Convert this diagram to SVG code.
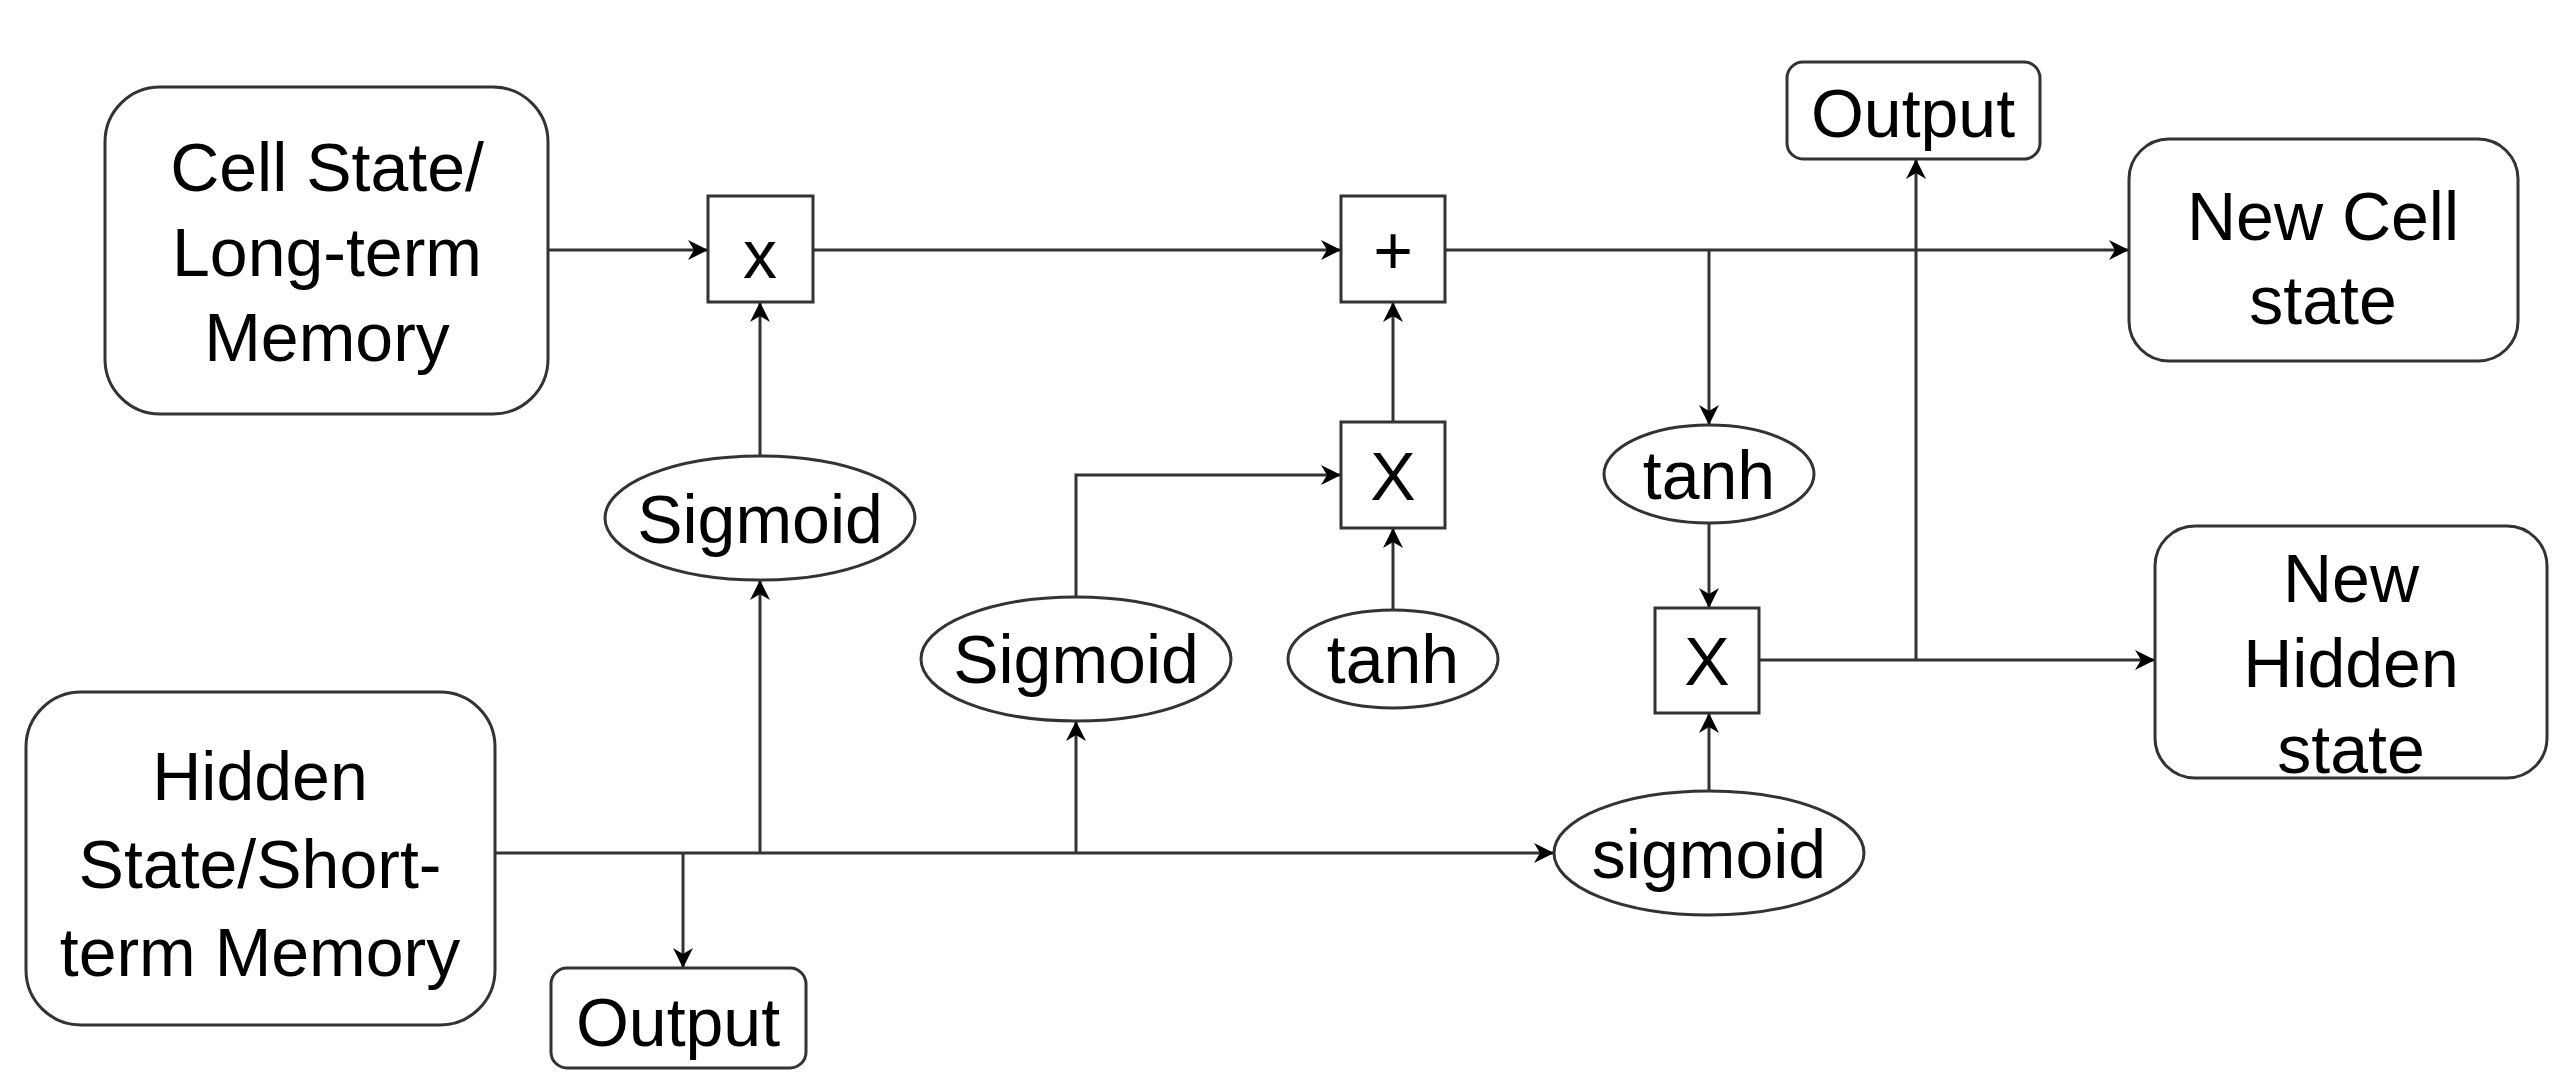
<svg xmlns="http://www.w3.org/2000/svg" width="2564" height="1092" viewBox="0 0 2564 1092">
<style>
.b{fill:#fff;stroke:#333;stroke-width:3}
.t{font-family:"Liberation Sans",Arial,sans-serif;font-size:68px;text-anchor:middle;fill:#000}
.c{fill:none;stroke:#333;stroke-width:3}
</style>
<defs>
<marker id="m" viewBox="0 0 10 10" refX="10" refY="5" markerWidth="20" markerHeight="20" markerUnits="userSpaceOnUse" orient="auto"><path d="M0,0L10,5L0,10L3,5Z" fill="#000"/></marker></defs>
<rect width="2564" height="1092" fill="#fff"/>
<g id="connectors">
<path class="c" marker-end="url(#m)" d="M548,250H708"/>
<path class="c" marker-end="url(#m)" d="M813,250H1341"/>
<path class="c" marker-end="url(#m)" d="M1445,250H2129"/>
<path class="c" marker-end="url(#m)" d="M1709,250V425"/>
<path class="c" marker-end="url(#m)" d="M1709,523V608"/>
<path class="c" marker-end="url(#m)" d="M1759,660H2155"/>
<path class="c" marker-end="url(#m)" d="M1916,660V159"/>
<path class="c" marker-end="url(#m)" d="M1393,422V302"/>
<path class="c" marker-end="url(#m)" d="M1393,610V528"/>
<path class="c" marker-end="url(#m)" d="M1076,597V475H1341"/>
<path class="c" marker-end="url(#m)" d="M760,456V302"/>
<path class="c" marker-end="url(#m)" d="M495,853H1554"/>
<path class="c" marker-end="url(#m)" d="M683,853V968"/>
<path class="c" marker-end="url(#m)" d="M760,853V580"/>
<path class="c" marker-end="url(#m)" d="M1076,853V721"/>
<path class="c" marker-end="url(#m)" d="M1709,791V713"/>
</g>
<g id="cell"><rect class="b" x="105" y="87" width="443" height="327" rx="55"/><text class="t" x="327" y="191">Cell State/</text><text class="t" x="327" y="276">Long-term</text><text class="t" x="327" y="361">Memory</text></g>
<g id="hidden"><rect class="b" x="26" y="692" width="469" height="333" rx="55"/><text class="t" x="260" y="800">Hidden</text><text class="t" x="260" y="888">State/Short-</text><text class="t" x="260" y="976">term Memory</text></g>
<g id="mul1"><rect class="b" x="708" y="196" width="105" height="106"/><text class="t" x="760" y="278">x</text></g>
<g id="plus"><rect class="b" x="1341" y="196" width="104" height="106"/><text class="t" x="1393" y="274">+</text></g>
<g id="mul2"><rect class="b" x="1341" y="422" width="104" height="106"/><text class="t" x="1393" y="500">X</text></g>
<g id="mul3"><rect class="b" x="1655" y="608" width="104" height="105"/><text class="t" x="1707" y="685">X</text></g>
<g id="outTop"><rect class="b" x="1787" y="62" width="253" height="97" rx="16"/><text class="t" x="1913" y="137">Output</text></g>
<g id="outBot"><rect class="b" x="551" y="968" width="255" height="100" rx="16"/><text class="t" x="678" y="1046">Output</text></g>
<g id="newCell"><rect class="b" x="2129" y="139" width="389" height="222" rx="40"/><text class="t" x="2323" y="240">New Cell</text><text class="t" x="2323" y="324">state</text></g>
<g id="newHidden"><rect class="b" x="2155" y="526" width="392" height="252" rx="40"/><text class="t" x="2351" y="602">New</text><text class="t" x="2351" y="687">Hidden</text><text class="t" x="2351" y="773">state</text></g>
<g id="sig1"><ellipse class="b" cx="760" cy="518" rx="155" ry="62"/><text class="t" x="760" y="543">Sigmoid</text></g>
<g id="sig2"><ellipse class="b" cx="1076" cy="659" rx="155" ry="62"/><text class="t" x="1076" y="683">Sigmoid</text></g>
<g id="tanh1"><ellipse class="b" cx="1393" cy="659" rx="105" ry="49"/><text class="t" x="1393" y="683">tanh</text></g>
<g id="tanh2"><ellipse class="b" cx="1709" cy="474" rx="105" ry="49"/><text class="t" x="1709" y="499">tanh</text></g>
<g id="sig3"><ellipse class="b" cx="1709" cy="853" rx="155" ry="62"/><text class="t" x="1709" y="878">sigmoid</text></g>
</svg>
